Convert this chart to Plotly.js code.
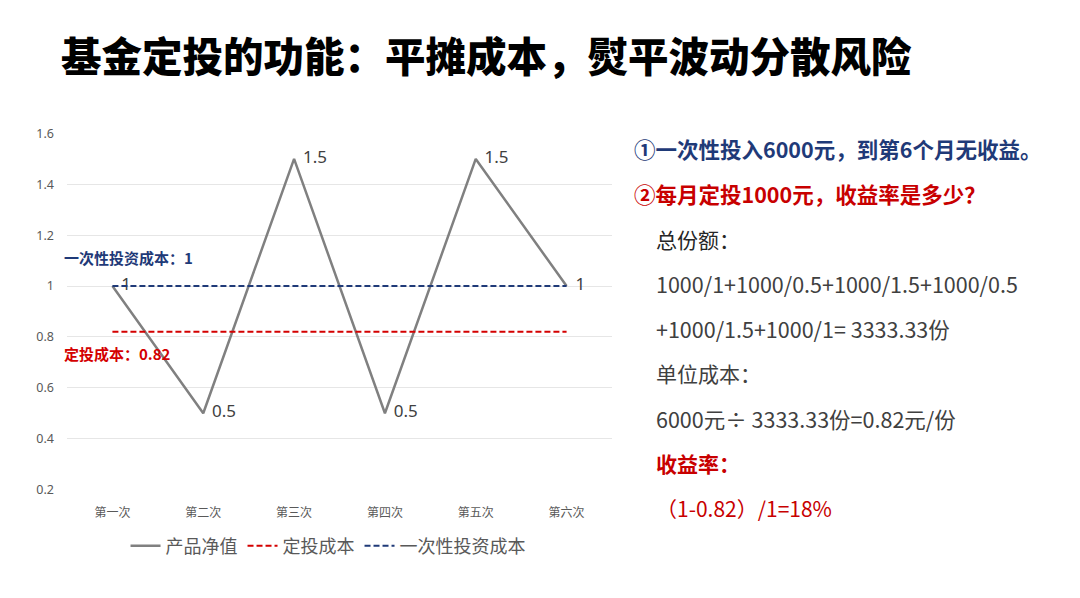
<!DOCTYPE html>
<html>
<head>
<meta charset="utf-8">
<script src="https://cdn.plot.ly/plotly-3.0.1.min.js"></script>
<style>
  html, body { margin: 0; padding: 0; background: #fff; }
  #chart { width: 1080px; height: 598px; }
</style>
</head>
<body>
<div id="chart"></div>
<script>
// chart data
var categories = ['第一次', '第二次', '第三次', '第四次', '第五次', '第六次'];
var netValue = [1, 0.5, 1.5, 0.5, 1.5, 1];
var dcaCost = [0.82, 0.82, 0.82, 0.82, 0.82, 0.82];
var lumpCost = [1, 1, 1, 1, 1, 1];
var seriesNames = ['产品净值', '定投成本', '一次性投资成本'];
var yTicks = [0.2, 0.4, 0.6, 0.8, 1, 1.2, 1.4, 1.6];

var titleText = '基金定投的功能：平摊成本，熨平波动分散风险';
var lumpLabel = '一次性投资成本：1';
var dcaLabel = '定投成本：0.82';

// right-hand notes
var notes = [
  {text: '①一次性投入6000元，到第6个月无收益。', color: '#1F3A78', bold: true},
  {text: '②每月定投1000元，收益率是多少？', color: '#C80000', bold: true},
  {text: '总份额：', color: '#262626', bold: false},
  {text: '1000/1+1000/0.5+1000/1.5+1000/0.5', color: '#404040', bold: false},
  {text: '+1000/1.5+1000/1= 3333.33份', color: '#404040', bold: false},
  {text: '单位成本：', color: '#404040', bold: false},
  {text: '6000元÷ 3333.33份=0.82元/份', color: '#404040', bold: false},
  {text: '收益率：', color: '#C80000', bold: true},
  {text: '（1-0.82）/1=18%', color: '#C80000', bold: false}
];
var noteX = [633, 633, 655, 655, 655, 655, 655, 655, 655];
var noteY = [148, 193, 239, 283, 328, 373, 418, 463, 508];
var noteSize = [21.5, 21.5, 21, 21.5, 21.5, 21, 21.5, 21, 21];

// plot area in pixels
var L = 66.5, R = 612.5, T = 133, B = 490;
function px(x) { return (x - L) / (R - L); }
function py(y) { return (B - y) / (B - T); }

var FONT = '"Noto Sans CJK SC", "Noto Sans", sans-serif';

var traces = [
  {
    x: categories, y: netValue, name: seriesNames[0],
    type: 'scatter', mode: 'lines+text',
    line: {color: '#808080', width: 2.5},
    text: netValue.map(function (v) { return '  ' + v; }),
    textposition: 'middle right',
    textfont: {family: '"Noto Sans", sans-serif', size: 17, color: '#404040'},
    cliponaxis: false
  },
  {
    x: categories, y: dcaCost, name: seriesNames[1],
    type: 'scatter', mode: 'lines',
    line: {color: '#D40000', width: 2, dash: '6px,3px'}
  },
  {
    x: categories, y: lumpCost, name: seriesNames[2],
    type: 'scatter', mode: 'lines',
    line: {color: '#1F3A78', width: 2, dash: '6px,3px'}
  }
];

var annotations = [
  {
    text: '<b>' + lumpLabel + '</b>', xref: 'paper', yref: 'paper',
    x: px(61), y: py(257), xanchor: 'left', yanchor: 'middle', showarrow: false,
    font: {family: FONT, size: 15, color: '#1F3A78'}
  },
  {
    text: '<b>' + dcaLabel + '</b>', xref: 'paper', yref: 'paper',
    x: px(61), y: py(353), xanchor: 'left', yanchor: 'middle', showarrow: false,
    font: {family: FONT, size: 15, color: '#D40000'}
  }
];

notes.forEach(function (n, i) {
  annotations.push({
    text: n.bold ? '<b>' + n.text + '</b>' : n.text,
    xref: 'paper', yref: 'paper',
    x: px(noteX[i]), y: py(noteY[i]), xanchor: 'left', yanchor: 'middle',
    showarrow: false,
    font: {family: FONT, size: noteSize[i], color: n.color}
  });
});

var layout = {
  width: 1080, height: 598,
  margin: {l: L, r: 1080 - R, t: T, b: 598 - B, pad: 0},
  paper_bgcolor: '#fff', plot_bgcolor: '#fff',
  title: {
    text: titleText, xref: 'container', yref: 'container',
    x: 61 / 1080, xanchor: 'left', y: 1 - 58 / 598, yanchor: 'middle',
    font: {family: FONT, size: 40.5, weight: 900, color: '#000'}
  },
  xaxis: {
    type: 'category', range: [-0.5, categories.length - 0.5],
    showgrid: false, zeroline: false, showline: false,
    ticks: '', ticklabelstandoff: 14,
    tickfont: {family: FONT, size: 12, color: '#595959'},
    fixedrange: true
  },
  yaxis: {
    range: [0.198, 1.602], tickvals: yTicks, showgrid: true,
    gridcolor: '#E6E6E6', gridwidth: 1, zeroline: false, showline: false,
    ticks: '', ticklabelstandoff: 12,
    tickfont: {family: '"Noto Sans", sans-serif', size: 12.5, color: '#595959'},
    fixedrange: true
  },
  showlegend: true,
  legend: {
    orientation: 'h', x: px(328), xanchor: 'center', y: py(546), yanchor: 'middle',
    font: {family: FONT, size: 18, color: '#595959'},
    itemwidth: 30, traceorder: 'normal'
  },
  annotations: annotations
};

Plotly.newPlot('chart', traces, layout, {displayModeBar: false, staticPlot: true});
</script>
</body>
</html>
